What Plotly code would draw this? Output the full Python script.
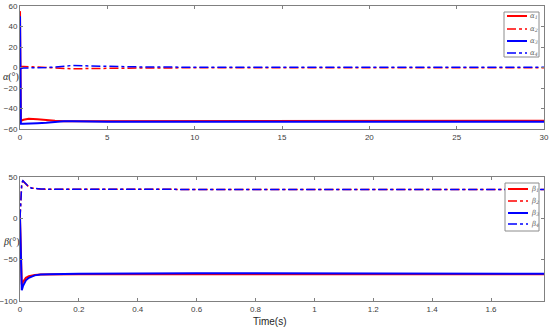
import plotly.graph_objects as go
from plotly.subplots import make_subplots

# ---- data ----
t_alpha = [0, 0.02, 0.05, 0.2, 0.5, 1, 1.5, 2, 2.5, 3, 4, 5, 7, 10, 15, 20, 25, 30]
alpha1 = [55, 10, -52, -51, -50, -50.5, -51.5, -52, -52.5, -52.5, -52.3, -52.2, -52, -52, -52, -52, -52.3, -52]
alpha2 = [0, 1, 1, 1, 1, 0.5, 0, -0.5, -1, -1.3, -1, -0.7, -0.5, -0.3, -0.3, -0.2, -0.2, -0.2]
alpha3 = [50, -10, -55, -55, -55, -54.5, -54, -53, -52.5, -52.5, -53, -53, -53, -53, -53, -53, -53, -53]
alpha4 = [0, -1, -1, -0.5, -0.5, -0.3, 0, 0.5, 1.5, 2, 1.5, 1, 0.5, 0.3, 0.3, 0.2, 0.2, 0.2]

t_beta = [0, 0.003, 0.006, 0.01, 0.015, 0.02, 0.03, 0.04, 0.05, 0.07, 0.1, 0.2, 0.4, 0.6, 0.8, 1.0, 1.2, 1.4, 1.6, 1.78]
beta1 = [0, -50, -80, -77, -74, -72, -70, -69, -68.5, -68, -67.8, -67.5, -67.5, -67.5, -67.5, -67.5, -67.5, -67.5, -67.5, -67.5]
beta2 = [0, 30, 42, 45, 43, 41, 38, 36.5, 36, 35.5, 35.2, 35, 35, 35, 35, 35, 35, 35, 35, 35]
beta3 = [0, -60, -87, -82, -78, -75, -72, -70, -69, -68, -67.5, -67, -66.5, -66.3, -66.5, -66.7, -67, -67, -67, -67]
beta4 = [0, 32, 43, 45.5, 43.5, 41, 38, 36.5, 36, 35.5, 35.2, 35, 35, 35, 35, 35, 35, 35, 35, 35]

alpha_ticks = [-60, -40, -20, 0, 20, 40, 60]
beta_ticks = [-100, -50, 0, 50]
time_ticks_top = [0, 5, 10, 15, 20, 25, 30]
time_ticks_bot = [0, 0.2, 0.4, 0.6, 0.8, 1, 1.2, 1.4, 1.6]

alpha_names = ["α<sub>1</sub>", "α<sub>2</sub>", "α<sub>3</sub>", "α<sub>4</sub>"]
beta_names = ["β<sub>1</sub>", "β<sub>2</sub>", "β<sub>3</sub>", "β<sub>4</sub>"]

RED = "#ff0000"
BLUE = "#0000ff"
styles = [(RED, "solid", 2), (RED, "dashdot", 1.5), (BLUE, "solid", 2), (BLUE, "dashdot", 1.5)]

W, H = 550, 329
ML, MR, MT, MB = 20, 6, 6, 28
PW, PH = W - ML - MR, H - MT - MB


def px(xp):
    return (xp - ML) / PW


def py(yp):
    return (H - MB - yp) / PH


fig = make_subplots(rows=2, cols=1, vertical_spacing=0.0)

for ys, st, nm in zip([alpha1, alpha2, alpha3, alpha4], styles, alpha_names):
    c, d, w = st
    fig.add_trace(go.Scatter(x=t_alpha, y=ys, mode="lines", name=nm,
                             line=dict(color=c, dash=d, width=w)), row=1, col=1)

for ys, st, nm in zip([beta1, beta2, beta3, beta4], styles, beta_names):
    c, d, w = st
    fig.add_trace(go.Scatter(x=t_beta, y=ys, mode="lines", name=nm,
                             line=dict(color=c, dash=d, width=w)), row=2, col=1)

axis_common = dict(showgrid=False, zeroline=False, showline=True, linecolor="#808080",
                   linewidth=1, mirror="allticks", ticks="inside", ticklen=3,
                   tickcolor="#808080", automargin=False, ticklabeloverflow="allow",
                   tickfont=dict(family="Liberation Sans, Arial", size=8, color="#404040"))
fig.update_xaxes(**axis_common)
fig.update_yaxes(**axis_common)

fig.update_layout(
    width=W, height=H,
    margin=dict(l=ML, r=MR, t=MT, b=MB),
    plot_bgcolor="white", paper_bgcolor="white",
    showlegend=False,
    xaxis=dict(domain=[0, 1], range=[0, 30], tickvals=time_ticks_top),
    yaxis=dict(domain=[py(129), 1.0], range=[-60, 60], tickvals=alpha_ticks),
    xaxis2=dict(domain=[0, 1], range=[0, 1.78], tickvals=time_ticks_bot),
    yaxis2=dict(domain=[0, py(177)], range=[-100, 50], tickvals=beta_ticks),
)

# ---- legends drawn as boxes (MATLAB style) ----
def draw_legend(box, rows, names):
    x0, y0, x1, y1 = box
    fig.add_shape(type="rect", xref="paper", yref="paper",
                  x0=px(x0), x1=px(x1), y0=py(y0), y1=py(y1),
                  line=dict(color="#8c8c8c", width=1), fillcolor="white", layer="above")
    for r, st, nm in zip(rows, styles, names):
        c, d, w = st
        fig.add_shape(type="line", xref="paper", yref="paper",
                      x0=px(x0 + 3), x1=px(x0 + 23), y0=py(r), y1=py(r),
                      line=dict(color=c, dash=d, width=w), layer="above")
        fig.add_annotation(text=f"<i>{nm}</i>", xref="paper", yref="paper",
                           x=px(x0 + 24), y=py(r), xanchor="left", yanchor="middle",
                           showarrow=False,
                           font=dict(family="DejaVu Serif", size=7, color="#666666"))


draw_legend((504, 12, 539, 57), [16, 29, 41, 53], alpha_names)
draw_legend((505, 183, 539, 231), [189, 201, 213, 224], beta_names)

# ---- axis labels ----
fig.add_annotation(text="<i>α</i>(°)", xref="paper", yref="paper", x=px(1), y=py(77),
                   xanchor="left", yanchor="middle", showarrow=False,
                   font=dict(family="Liberation Serif", size=10, color="#262626"))
fig.add_annotation(text="<i>β</i>(°)", xref="paper", yref="paper", x=px(1), y=py(242),
                   xanchor="left", yanchor="middle", showarrow=False,
                   font=dict(family="Liberation Serif", size=10, color="#262626"))
fig.add_annotation(text="Time(s)", xref="paper", yref="paper", x=px(270), y=py(321),
                   xanchor="center", yanchor="middle", showarrow=False,
                   font=dict(family="Liberation Sans, Arial", size=10, color="#262626"))

fig.write_html("out.html", config={"displayModeBar": False},
               post_script="document.body.style.margin='0px';")
